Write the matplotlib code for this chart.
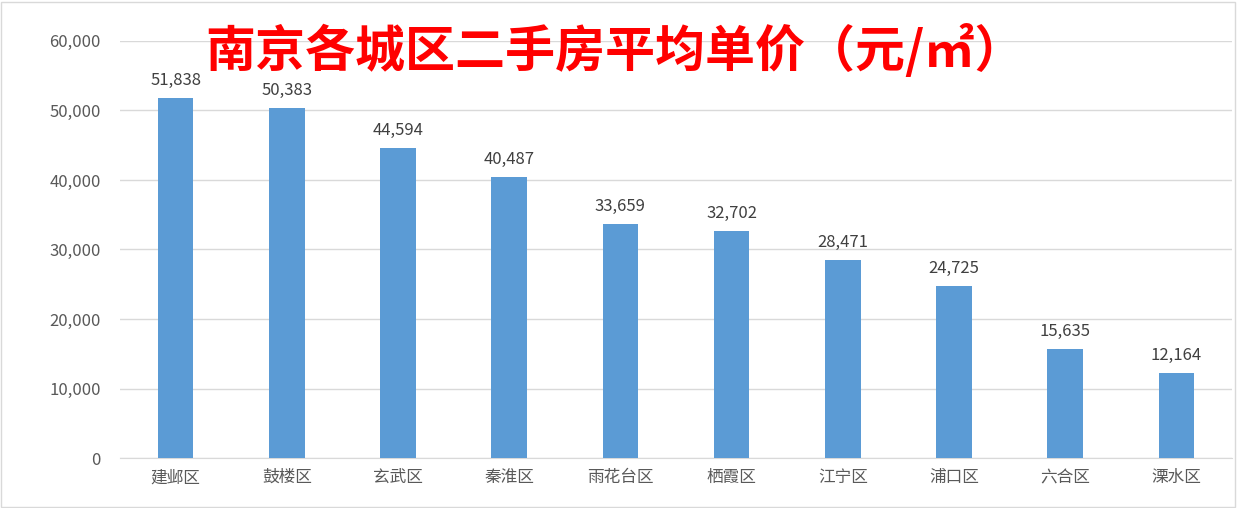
import matplotlib
matplotlib.use("Agg")
import matplotlib.pyplot as plt
from matplotlib.patches import Rectangle

plt.rcParams['font.family'] = ['Noto Sans CJK SC', 'DejaVu Sans']

districts = ["建邺区", "鼓楼区", "玄武区", "秦淮区", "雨花台区",
             "栖霞区", "江宁区", "浦口区", "六合区", "溧水区"]
prices = [51838, 50383, 44594, 40487, 33659, 32702, 28471, 24725, 15635, 12164]
yticks = [0, 10000, 20000, 30000, 40000, 50000, 60000]

fig = plt.figure(figsize=(12.37, 5.08), dpi=100)
ax = fig.add_axes([0.097, 0.0984, 0.899, 0.821])

x = range(len(districts))
ax.bar(x, prices, width=0.32, color="#5B9BD5", zorder=3)
for xi, v in zip(x, prices):
    ax.text(xi, v + 1300, f"{v:,}", ha="center", va="bottom",
            fontsize=12, color="#404040")

ax.set_xlim(-0.5, len(districts) - 0.5)
ax.set_ylim(0, 60000)
ax.set_yticks(yticks)
ax.set_yticklabels([f"{t:,}" for t in yticks])
ax.set_xticks(list(x))
ax.set_xticklabels(districts)
ax.tick_params(axis="both", length=0, labelsize=12, colors="#595959", pad=8)
ax.tick_params(axis="y", pad=14)
ax.grid(axis="y", color="#D9D9D9", linewidth=1, zorder=0)
for s in ["top", "right", "left"]:
    ax.spines[s].set_visible(False)
ax.spines["bottom"].set_color("#D9D9D9")

fig.text(0.497, 0.9, "南京各城区二手房平均单价（元/㎡）", ha="center", va="center",
         fontsize=36, fontweight="bold", color="#FF0000")

fig.patches.append(Rectangle((0.001, 0.002), 0.997, 0.995, transform=fig.transFigure,
                             fill=False, edgecolor="#D9D9D9", linewidth=1))

fig.savefig("out.png", dpi=100)
